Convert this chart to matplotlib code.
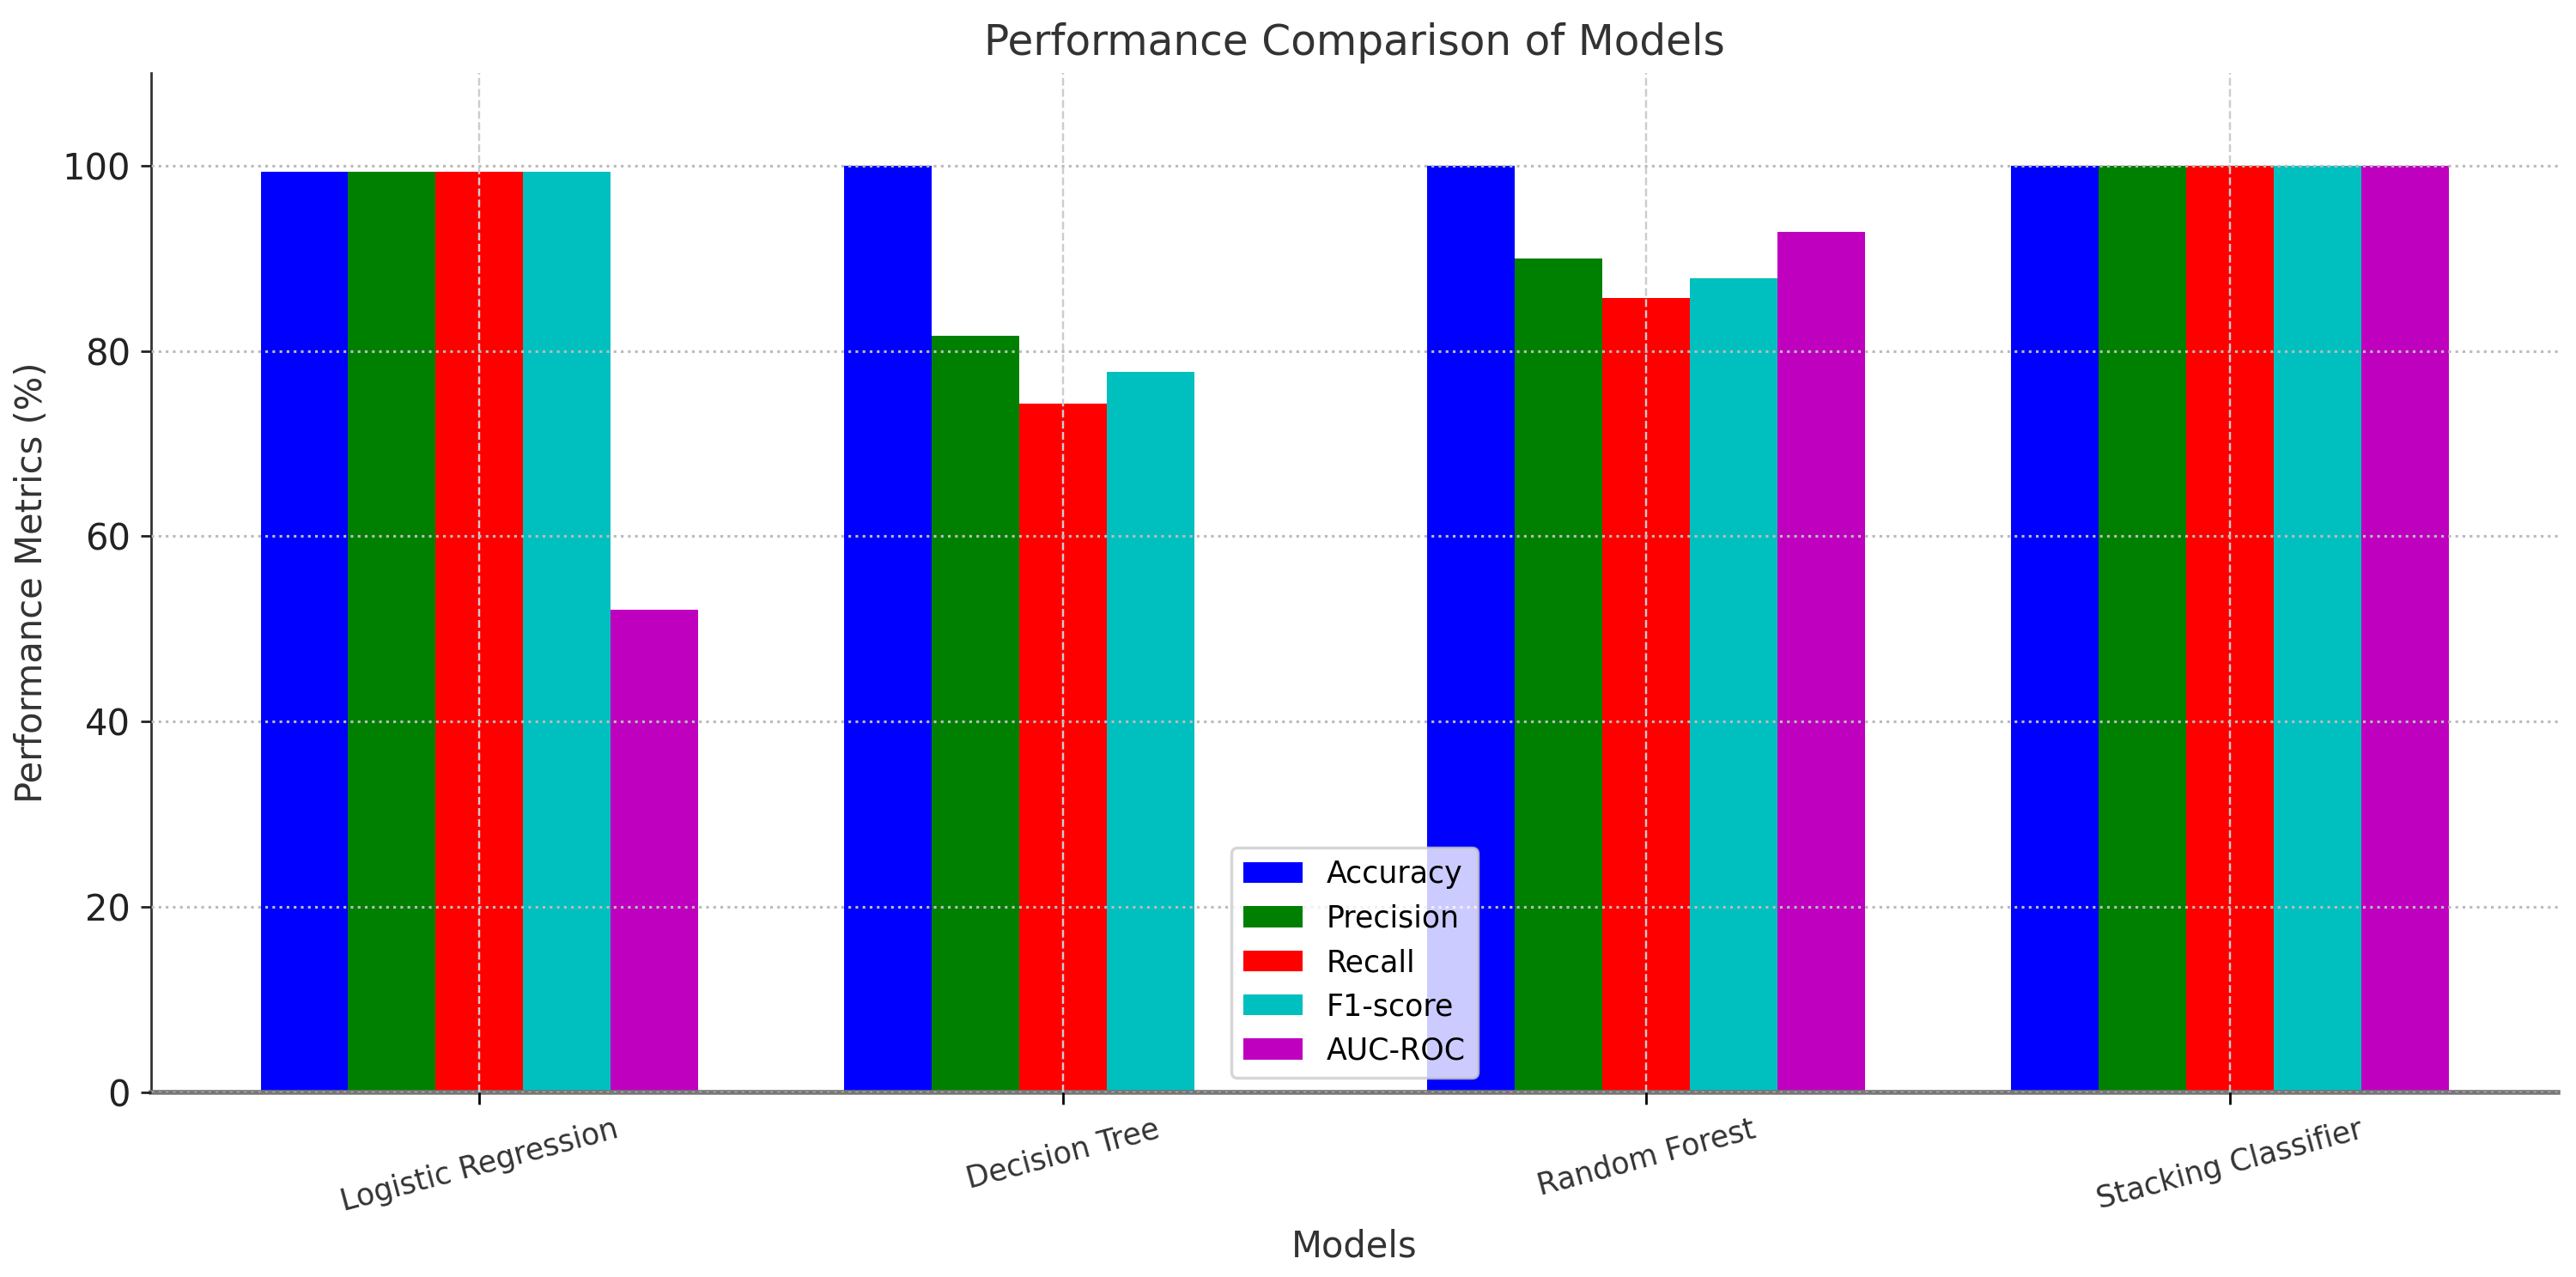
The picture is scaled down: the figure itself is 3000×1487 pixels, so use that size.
import numpy as np
import matplotlib
matplotlib.use("Agg")
import matplotlib.pyplot as plt

# данные
models = ["Logistic Regression", "Decision Tree", "Random Forest", "Stacking Classifier"]
metrics = ["Accuracy", "Precision", "Recall", "F1-score", "AUC-ROC"]
accuracy = [99.3, 100.0, 100.0, 100.0]
precision = [99.3, 81.6, 90.0, 100.0]
recall = [99.3, 74.3, 85.7, 100.0]
f1_score = [99.3, 77.7, 87.8, 100.0]
auc_roc = [52.1, 0.0, 92.8, 100.0]
colors = ["b", "g", "r", "c", "m"]

values = [accuracy, precision, recall, f1_score, auc_roc]

fig, ax = plt.subplots(figsize=(12, 5.948), dpi=250)
fig.subplots_adjust(left=0.0587, right=0.993, top=0.943, bottom=0.1446)

x = np.arange(len(models))
width = 0.15
for i, (name, vals) in enumerate(zip(metrics, values)):
    ax.bar(x + (i - 2) * width, vals, width, label=name, color=colors[i])

ax.set_ylim(0, 110)
ax.set_xticks(x)
ax.set_xticklabels(models, rotation=15, fontsize=10, color="#333333")
ax.tick_params(axis="y", labelsize=12, colors="#222222")
ax.tick_params(axis="x", length=4)

ax.set_title("Performance Comparison of Models", fontsize=14, color="#333333")
ax.set_xlabel("Models", fontsize=12, color="#333333")
ax.set_ylabel("Performance Metrics (%)", fontsize=12, color="#333333")

ax.yaxis.grid(True, linestyle=":", color="#bbbbbb", linewidth=0.9)
ax.xaxis.grid(True, linestyle="--", color="#cccccc", linewidth=0.7)
ax.set_axisbelow(False)

for side in ["top", "right"]:
    ax.spines[side].set_visible(False)
ax.spines["left"].set_color("#333333")
ax.spines["bottom"].set_color("#777777")
ax.spines["bottom"].set_linewidth(1.6)

ax.legend(loc="lower center", fontsize=10, framealpha=0.8)

fig.savefig("out.png")
